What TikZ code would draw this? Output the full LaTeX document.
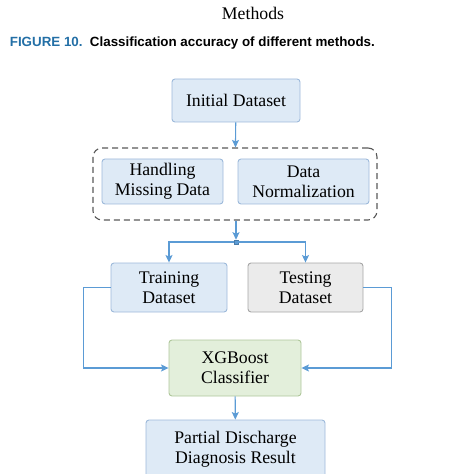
\documentclass[tikz,border=0pt]{standalone}
\usepackage{fontspec}
\setmainfont{Liberation Serif}
\newfontfamily\capfont{Liberation Sans}
\usepackage{tikz}
\usetikzlibrary{arrows.meta}

\definecolor{flowblue}{HTML}{5B9BD5}
\definecolor{bluefill}{HTML}{DEEAF6}
\definecolor{blueline}{HTML}{9DB9DA}
\definecolor{grayfill}{HTML}{EBEBEB}
\definecolor{grayline}{HTML}{A6A6A6}
\definecolor{greenfill}{HTML}{E3EFDB}
\definecolor{greenline}{HTML}{AFC79B}
\definecolor{capblue}{HTML}{236FA6}

\begin{document}
\begin{tikzpicture}[x=1bp,y=-1bp,->,>={Stealth[length=7.5bp,width=7bp,inset=1.5bp]},
  line width=1.1bp,font=\fontsize{17.8}{20}\selectfont]
  \tikzstyle{box}=[rectangle,rounded corners=3bp,draw=blueline,fill=bluefill,
    line width=0.9bp,align=center,inner sep=0pt]
  \tikzstyle{flow}=[draw=flowblue]

  \useasboundingbox (0,0) rectangle (474,474);

  \node (methods) at (253,13) {Methods};
  \node[anchor=west,font=\capfont\bfseries\fontsize{13.4}{15}\selectfont] (caption) at (6,43)
    {\textcolor{capblue}{FIGURE 10.}\ \ Classification accuracy of different methods.};

  \node[box,minimum width=128bp,minimum height=43bp] (init) at (236,100.5) {Initial Dataset};
  \node[box,draw=black!65,fill=none,dash pattern=on 6bp off 4bp,rounded corners=9bp,
    line width=1.1bp,minimum width=284bp,minimum height=72bp] (prep) at (235,184) {};
  \node[box,minimum width=121bp,minimum height=45bp] (missing) at (162.5,181.5) {Handling\\Missing Data};
  \node[box,minimum width=131bp,minimum height=45bp] (norm) at (303.5,181.5) {Data\\Normalization};

  \node[rectangle,draw=flowblue!80!black,fill=flowblue,minimum size=4bp,inner sep=0pt,
    line width=0.6bp] (split) at (236,242) {};

  \node[box,minimum width=116bp,minimum height=49bp] (train) at (169,287.5) {Training\\Dataset};
  \node[box,draw=grayline,fill=grayfill,minimum width=115bp,minimum height=49bp] (test) at (305.5,287.5) {Testing\\Dataset};
  \node[box,draw=greenline,fill=greenfill,minimum width=132bp,minimum height=56bp] (xgb) at (235,368) {XGBoost\\Classifier};
  \node[box,minimum width=179bp,minimum height=58bp] (result) at (235.5,449) {Partial Discharge\\Diagnosis Result};

  \draw[flow] (init) -- (prep);
  \draw[flow] (prep.south -| split) -- (split);
  \draw[flow] (xgb) -- (result);
  \draw[flow] (split) -| (train.north);
  \draw[flow] (split) -| (test.north);
  \draw[flow] (train.west) -- ++(-27,0) |- (xgb.west);
  \draw[flow] (test.east) -- ++(28,0) |- (xgb.east);
\end{tikzpicture}
\end{document}
